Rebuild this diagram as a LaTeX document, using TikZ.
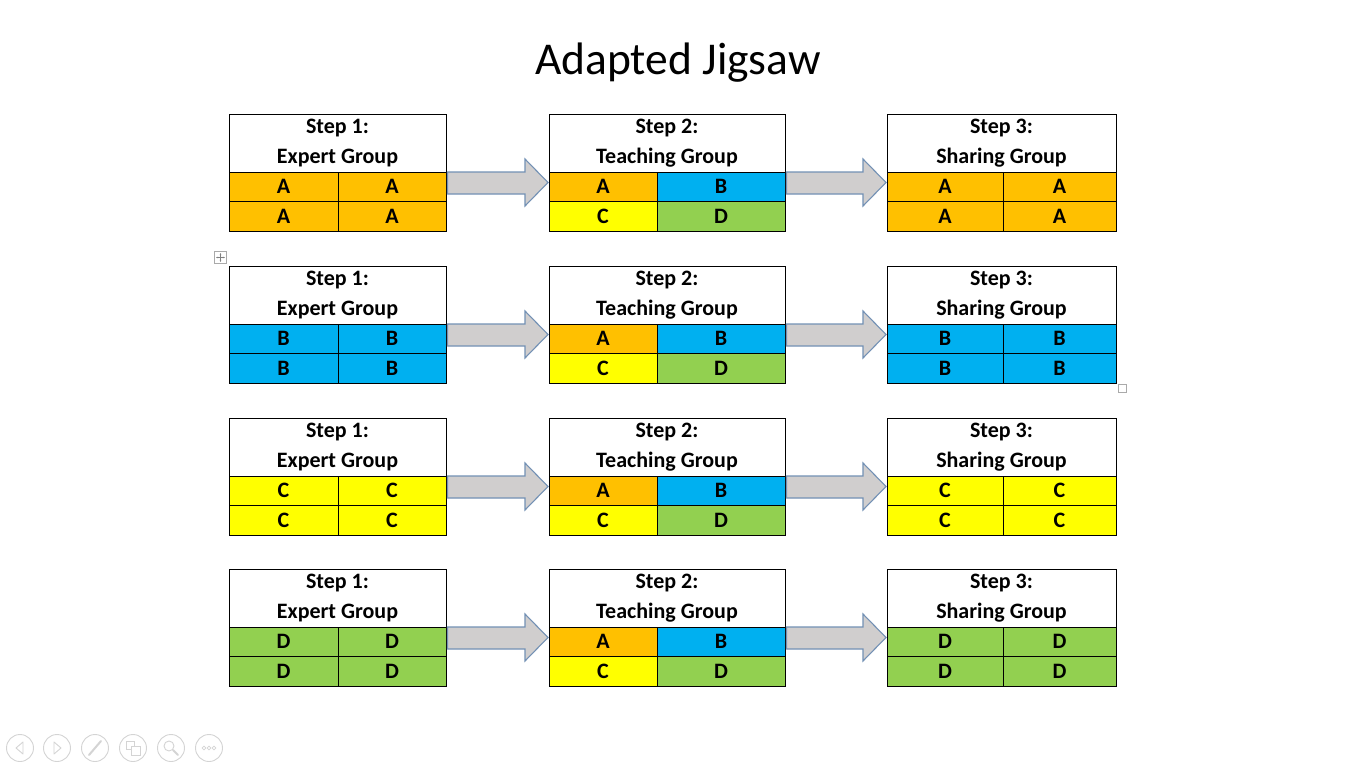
\documentclass[tikz,border=0pt]{standalone}
\usepackage{fontspec}
\setmainfont{Carlito}
\usetikzlibrary{positioning,calc,arrows.meta}

\definecolor{grpA}{HTML}{FFC000}
\definecolor{grpB}{HTML}{00B0F0}
\definecolor{grpC}{HTML}{FFFF00}
\definecolor{grpD}{HTML}{92D050}
\definecolor{arrowfill}{HTML}{D0CECE}
\definecolor{arrowline}{HTML}{7391B5}
\definecolor{uigray}{HTML}{D4D4D4}

\tikzset{
  headbox/.style={draw, fill=white, line width=0.9pt, anchor=north west, inner sep=0pt, outer sep=0pt,
    minimum height=58, align=center, font=\bfseries\fontsize{22}{30}\selectfont},
  cellbox/.style={draw, line width=0.9pt, anchor=north west, inner sep=0pt, outer sep=0pt,
    minimum height=29.5, font=\bfseries\fontsize{22}{24}\selectfont},
  blockarrow/.style={draw=arrowline, fill=arrowfill, line width=1.1pt, line join=miter},
  uibtn/.style={draw=uigray, line width=0.9pt}
}

\begin{document}
\begin{tikzpicture}[x=1pt, y=-1pt]
  \useasboundingbox (0,0) rectangle (1366,768);
  \fill[white] (0,0) rectangle (1366,768);

  % title
  \node (title) at (678,63) {\fontsize{45.5}{50}\selectfont Adapted Jigsaw};

  % four rows of groups
  \foreach \r/\yy/\ltr/\col in {1/114/A/grpA, 2/266/B/grpB, 3/418/C/grpC, 4/569/D/grpD} {
    % step 1: expert group
    \node[headbox, minimum width=217] (x\r) at (229,\yy) {Step 1:\\Expert Group};
    \node[cellbox, fill=\col, minimum width=109] (x\r a) at (x\r.south west) {\ltr};
    \node[cellbox, fill=\col, minimum width=108] (x\r b) at (x\r a.north east) {\ltr};
    \node[cellbox, fill=\col, minimum width=109] (x\r c) at (x\r a.south west) {\ltr};
    \node[cellbox, fill=\col, minimum width=108] (x\r d) at (x\r c.north east) {\ltr};
    % step 2: teaching group
    \node[headbox, minimum width=236] (t\r) at (549,\yy) {Step 2:\\Teaching Group};
    \node[cellbox, fill=grpA, minimum width=108] (t\r a) at (t\r.south west) {A};
    \node[cellbox, fill=grpB, minimum width=128] (t\r b) at (t\r a.north east) {B};
    \node[cellbox, fill=grpC, minimum width=108] (t\r c) at (t\r a.south west) {C};
    \node[cellbox, fill=grpD, minimum width=128] (t\r d) at (t\r c.north east) {D};
    % step 3: sharing group
    \node[headbox, minimum width=229] (s\r) at (887,\yy) {Step 3:\\Sharing Group};
    \node[cellbox, fill=\col, minimum width=116] (s\r a) at (s\r.south west) {\ltr};
    \node[cellbox, fill=\col, minimum width=113] (s\r b) at (s\r a.north east) {\ltr};
    \node[cellbox, fill=\col, minimum width=116] (s\r c) at (s\r a.south west) {\ltr};
    \node[cellbox, fill=\col, minimum width=113] (s\r d) at (s\r c.north east) {\ltr};
    % block arrows between the steps
    \foreach \from/\to in {x\r b/t\r a, t\r b/s\r a} {
      \draw[blockarrow] ($(\from.north east)+(1.5,0)$) -- ($(\to.north west)+(-24,0)$)
        -- ($(\to.north west)+(-24,-13)$) -- ($(\to.north west)+(-1,10.5)$)
        -- ($(\to.north west)+(-24,34)$) -- ($(\to.north west)+(-24,22)$)
        -- ($(\from.north east)+(1.5,22)$) -- cycle;
    }
  }

  % table handles
  \node[draw=uigray!80!black, line width=0.7pt, minimum size=12, inner sep=0pt] (movehandle) at (220.5,257.5) {};
  \draw[gray, line width=0.6pt, {Stealth[length=2pt]}-{Stealth[length=2pt]}] ($(movehandle)+(-4.5,0)$) -- ($(movehandle)+(4.5,0)$);
  \draw[gray, line width=0.6pt, {Stealth[length=2pt]}-{Stealth[length=2pt]}] ($(movehandle)+(0,-4.5)$) -- ($(movehandle)+(0,4.5)$);
  \node[draw=uigray!80!black, line width=0.7pt, minimum size=8, inner sep=0pt] (sizehandle) at (1122.5,388.5) {};

  % slide show controls
  \foreach \i/\cx in {1/20, 2/57, 3/95, 4/133, 5/171, 6/209} {
    \node[uibtn, circle, minimum size=27, inner sep=0pt] (btn\i) at (\cx,748) {};
  }
  \draw[uibtn, line join=round] ($(btn1)+(3,-6)$) -- ($(btn1)+(-4,0)$) -- ($(btn1)+(3,6)$) -- cycle;
  \draw[uibtn, line join=round] ($(btn2)+(-3,-6)$) -- ($(btn2)+(4,0)$) -- ($(btn2)+(-3,6)$) -- cycle;
  \draw[uibtn, line width=2pt, line cap=round] ($(btn3)+(-6,7)$) -- ($(btn3)+(6,-7)$);
  \draw[uibtn] ($(btn4)+(-7,-7)$) rectangle ($(btn4)+(1,1)$);
  \draw[uibtn, fill=white] ($(btn4)+(-2,-2)$) rectangle ($(btn4)+(7,7)$);
  \draw[uibtn] ($(btn5)+(-2,-2)$) circle (5);
  \draw[uibtn, line width=2pt, line cap=round] ($(btn5)+(2,2)$) -- ($(btn5)+(7,7)$);
  \foreach \dx in {-5,0,5} {
    \draw[uibtn, line width=0.7pt] ($(btn6)+(\dx,0)$) circle (1.8);
  }
\end{tikzpicture}
\end{document}
